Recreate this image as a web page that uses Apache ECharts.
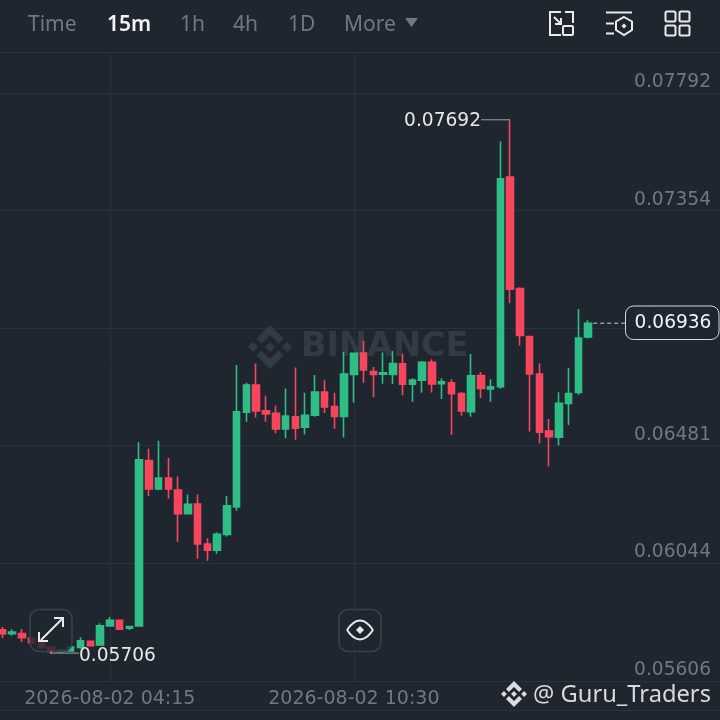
<!DOCTYPE html>
<html><head><meta charset="utf-8">
<style>html,body{margin:0;padding:0;background:#1f2630}#c{width:720px;height:720px}</style>
<script src="https://cdn.jsdelivr.net/npm/echarts@6/dist/echarts.min.js"></script>
</head><body><div id="c"></div>
<script>
const priceTicks=[0.05606,0.06044,0.06481,0.06917,0.07354,0.07792];
const timeTicks=['2026-08-02 04:15','2026-08-02 10:30'];
const tabs=['Time','15m','1h','4h','1D','More'];
const opens=[.05796,.05782,.05782,.05765,.05746,.05731,.05715,.05718,.05731,.05754,.05740,.05811,.05832,.05802,.05811,.06425,.06320,.06360,.06316,.06228,.06264,.06115,.06092,.06151,.06253,.06605,.06706,.06610,.06601,.06543,.06588,.06549,.06594,.06680,.06626,.06589,.06745,.06825,.06756,.06746,.06745,.06785,.06709,.06724,.06791,.06711,.06714,.06674,.06607,.06741,.06692,.06700,.07479,.07065,.06886,.06747,.06535,.06512,.06638,.06679,.06885];
const closes=[.05781,.05788,.05767,.05748,.05731,.05716,.05721,.05732,.05755,.05737,.05811,.05832,.05799,.05808,.06428,.06320,.06360,.06320,.06228,.06263,.06115,.06092,.06151,.06257,.06607,.06706,.06610,.06599,.06543,.06591,.06546,.06594,.06680,.06625,.06589,.06747,.06824,.06762,.06745,.06752,.06786,.06709,.06725,.06791,.06710,.06718,.06674,.06610,.06740,.06693,.06700,.07473,.07062,.06890,.06747,.06531,.06514,.06638,.06674,.06881,.06936];
const lows=[.05766,.05774,.05751,.05746,.05724,.05706,.05711,.05716,.05726,.05734,.05739,.05808,.05798,.05796,.05810,.06294,.06315,.06284,.06124,.06227,.06060,.06053,.06079,.06143,.06239,.06570,.06585,.06570,.06527,.06508,.06503,.06522,.06588,.06602,.06544,.06511,.06641,.06715,.06661,.06711,.06710,.06668,.06644,.06677,.06678,.06654,.06521,.06592,.06588,.06658,.06644,.06692,.07010,.06853,.06533,.06490,.06403,.06481,.06558,.06670,.06879];
const highs=[.05807,.05798,.05799,.05766,.05748,.05734,.05726,.05735,.05769,.05756,.05821,.05844,.05833,.05811,.06493,.06469,.06499,.06435,.06366,.06299,.06299,.06137,.06159,.06294,.06781,.06715,.06786,.06666,.06630,.06693,.06771,.06677,.06743,.06724,.06677,.06829,.06826,.06871,.06773,.06827,.06833,.06822,.06731,.06795,.06802,.06731,.06728,.06679,.06821,.06755,.06728,.07611,.07692,.07070,.06889,.06787,.06580,.06679,.06769,.06989,.06947];
const bg='#1f2630',grid='#2c323c',axisText='#717882',bright='#e6e8ea',UP='#2ebd85',DOWN='#f6465d';
const FONT='"DejaVu Sans"',UI='"Noto Sans"',NUM=18.6;
const categories=[];
(function(){let m=90;for(let i=0;i<74;i++){const t=m+i*15,d=t>=1440?3:2,h=Math.floor(t/60)%24,mm=t%60;categories.push('2026-08-0'+d+' '+String(h).padStart(2,'0')+':'+String(mm).padStart(2,'0'));}})();
const candles=opens.map((o,i)=>[o,closes[i],lows[i],highs[i]]);
const LOGO=[[[38.73,53.2],[63.32,28.62],[87.92,53.22],[102.22,38.91],[63.32,0],[24.42,38.9]],[[0,63.31],[14.3,49],[28.61,63.31],[14.3,77.61]],[[38.73,73.41],[63.32,98],[87.92,73.4],[102.23,87.69],[63.33,126.6],[24.42,87.72]],[[98,63.31],[112.3,49],[126.61,63.3],[112.3,77.62]],[[63.32,48.78],[77.83,63.3],[63.32,77.78],[48.81,63.28]]];
const logo=(x,y,s,fill,z)=>LOGO.map(pts=>({type:'polygon',z,shape:{points:pts.map(p=>[x+p[0]*s/126.61,y+p[1]*s/126.61])},style:{fill}}));
const chart=echarts.init(document.getElementById('c'),null,{renderer:'canvas'});
chart.setOption({
 animation:false,backgroundColor:bg,
 grid:{left:-2.5,right:0,top:52,bottom:39,containLabel:false,outerBoundsMode:'none'},
 xAxis:{type:'category',data:categories,boundaryGap:true,
  axisLine:{show:false},axisTick:{show:false,alignWithLabel:true},
  axisLabel:{interval:(i,v)=>timeTicks.includes(v),color:axisText,fontFamily:FONT,fontSize:19,margin:9,hideOverlap:false},
  splitLine:{show:true,alignWithLabel:true,interval:(i,v)=>timeTicks.includes(v),lineStyle:{color:grid,width:1}}},
 yAxis:{type:'value',position:'right',min:0.05606,max:0.07944,scale:true,
  axisLine:{show:false},axisTick:{show:false,customValues:priceTicks},
  axisLabel:{inside:true,customValues:priceTicks,align:'right',verticalAlign:'bottom',margin:9,padding:[0,0,1,0],color:axisText,fontFamily:FONT,fontSize:NUM,formatter:v=>v.toFixed(5),showMinLabel:true,showMaxLabel:true},
  splitLine:{show:true,lineStyle:{color:grid,width:1}}},
 series:[{type:'candlestick',data:candles,barWidth:7,z:5,
  itemStyle:{color:UP,color0:DOWN,borderColor:UP,borderColor0:DOWN,borderWidth:1.6}}]
});
const P=(i,v)=>chart.convertToPixel({xAxisIndex:0,yAxisIndex:0},[i,v]);
const last=opens.length-1, hiIdx=highs.indexOf(Math.max(...highs)), loIdx=lows.indexOf(Math.min(...lows));
const hi=P(hiIdx,highs[hiIdx]), lo=P(loIdx,lows[loIdx]), cur=P(last,closes[last]);
const conn='#9aa0a8';
const tabX=[28,107,180,233,288,344];
const line=(x1,y1,x2,y2,c,w,z,dash)=>({type:'line',shape:{x1,y1,x2,y2},z:z||100,style:{stroke:c,lineWidth:w||1,lineDash:dash}});
const ICON='#e9ebee';
const rect=(x,y,w,h,r,s,f,lw,z)=>({type:'rect',shape:{x,y,width:w,height:h,r},z:z||100,style:{stroke:s,fill:f||'none',lineWidth:lw||2}});
const poly=(pts,lw)=>({type:'polyline',z:100,shape:{points:pts},style:{stroke:ICON,lineWidth:lw||2,fill:'none'}});
const els=[
 ...logo(248,325,44,'#333a45',1),
 {type:'text',z:1,x:301,y:347,style:{text:'BINANCE',font:'bold 33.5px "DejaVu Sans"',fill:'#333a45',textVerticalAlign:'middle',textAlign:'left'}},
 line(0,52.5,720,52.5,grid,1),line(0,681.5,720,681.5,grid,1),line(0,710.5,720,710.5,grid,1),
];
tabs.forEach((t,i)=>els.push({type:'text',z:100,x:tabX[i],y:25.5,style:{text:t,font:(i==1?'600 ':'400 ')+'21px '+UI,fill:i==1?'#f2f3f5':axisText,textVerticalAlign:'middle'}}));
els.push({type:'polygon',z:100,shape:{points:[[405,18],[418,18],[411.5,27]]},style:{fill:axisText}});
// toolbar icons
els.push(poly([[561,12],[550,12],[550,35],[561,35]]),poly([[565,12],[573,12],[573,23]]));
els.push(rect(563,26,10,9,1,ICON,null,2));
els.push(poly([[554,17],[561,24]]),poly([[555,24],[561,24],[561,18]]));
els.push(line(606,12.5,632,12.5,ICON,2),line(606,23.5,614,23.5,ICON,2),line(606,33.5,614,33.5,ICON,2));
els.push({type:'polygon',z:100,shape:{points:[[624,17],[632,21.5],[632,30],[624,35],[616,30],[616,21.5]]},style:{stroke:ICON,fill:'none',lineWidth:2}});
els.push({type:'polygon',z:100,shape:{points:[[624,23.5],[626.5,26],[624,28.5],[621.5,26]]},style:{fill:ICON}});
[[665,11],[679,11],[665,25],[679,25]].forEach(p=>els.push(rect(p[0]+.5,p[1]+.5,10,10,1.5,ICON,null,2)));
// floating buttons
els.push(rect(30,609.5,42,42,9,'#3a414c','rgba(31,38,48,0.78)',1.5,90));
els.push(rect(339,609.5,42,42,9,'#3a414c','rgba(31,38,48,0.78)',1.5,90));
els.push(poly([[41,640],[62,619]]),poly([[54,618],[63,618],[63,627]]),poly([[39,632],[39,641],[48,641]]));
els.push({type:'bezierCurve',z:100,shape:{x1:347,y1:630,x2:373,y2:630,cpx1:360,cpy1:611},style:{stroke:ICON,fill:'none',lineWidth:2}});
els.push({type:'bezierCurve',z:100,shape:{x1:347,y1:630,x2:373,y2:630,cpx1:360,cpy1:649},style:{stroke:ICON,fill:'none',lineWidth:2}});
els.push({type:'polygon',z:100,shape:{points:[[360,626],[364,630],[360,634],[356,630]]},style:{fill:ICON}});
// annotations
els.push({type:'polyline',z:100,shape:{points:[[481,hi[1]],[hi[0],hi[1]]]},style:{stroke:conn,lineWidth:1}});
els.push({type:'text',z:100,x:481,y:hi[1]+1,style:{text:highs[hiIdx].toFixed(5),font:'400 '+NUM+'px '+FONT,fill:bright,textAlign:'right',textVerticalAlign:'middle'}});
els.push({type:'polyline',z:100,shape:{points:[[lo[0],lo[1]-3],[lo[0],lo[1]-1],[79,lo[1]-1]]},style:{stroke:conn,lineWidth:1,fill:'none'}});
els.push({type:'text',z:100,x:79,y:lo[1]+2,style:{text:lows[loIdx].toFixed(5),font:'400 '+NUM+'px '+FONT,fill:bright,textAlign:'left',textVerticalAlign:'middle'}});
// current price
els.push(line(cur[0]+5,cur[1],625,cur[1],'#c8ccd1',1,100,[4,3]));
els.push(rect(625.5,306,93.5,33.5,8,'#d5d8dc','rgba(31,38,48,0.93)',1,100));
els.push({type:'text',z:101,x:673,y:323.5,style:{text:closes[last].toFixed(5),font:'400 '+NUM+'px '+FONT,fill:'#f2f3f5',textAlign:'center',textVerticalAlign:'middle'}});
// footer
els.push(...logo(501,681,26,'#dcdcdc',100));
els.push({type:'text',z:100,x:711,y:695,style:{text:'@ Guru_Traders',font:'400 23.7px "Noto Sans"',fill:'#d9d9d9',textAlign:'right',textVerticalAlign:'middle',shadowBlur:2,shadowColor:'rgba(0,0,0,.5)',shadowOffsetX:1,shadowOffsetY:1}});
chart.setOption({graphic:{elements:els}});
</script></body></html>
